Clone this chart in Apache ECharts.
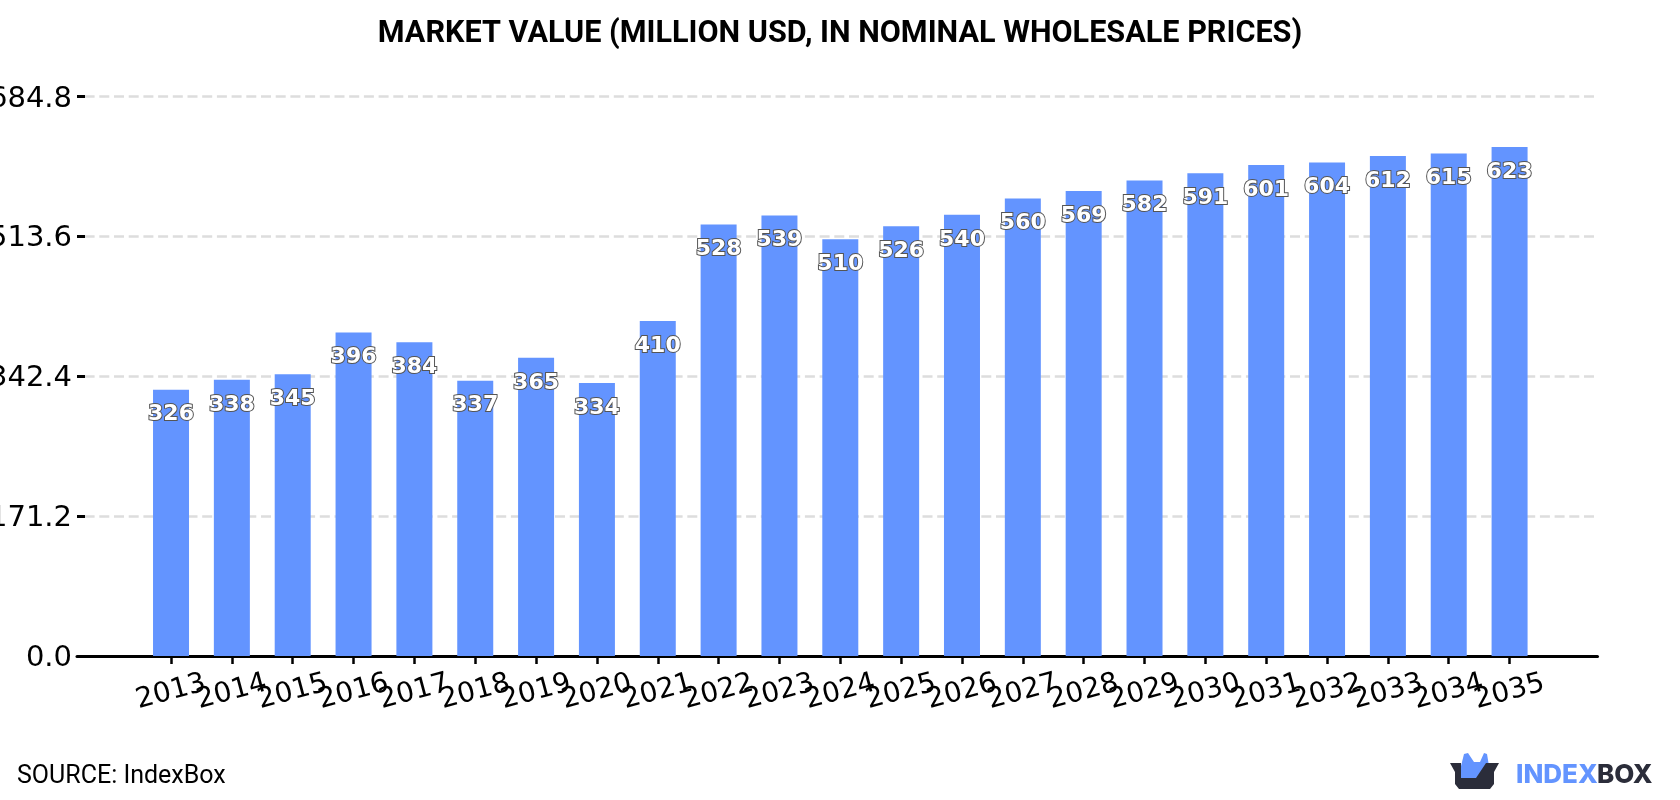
<!DOCTYPE html>
<html>
<head>
<meta charset="utf-8">
<style>html,body{margin:0;padding:0;background:#fff}#chart{width:1680px;height:800px}</style>
<script src="https://cdn.jsdelivr.net/npm/echarts@6/dist/echarts.min.js"></script>
</head>
<body>
<div id="chart"></div>
<script>
const years = ['2013','2014','2015','2016','2017','2018','2019','2020','2021','2022','2023','2024','2025','2026','2027','2028','2029','2030','2031','2032','2033','2034','2035'];
const marketValue = [326,338,345,396,384,337,365,334,410,528,539,510,526,540,560,569,582,591,601,604,612,615,623];
const yTickStep = 171.2;
const yTickMax = 684.8;
const chartTitle = 'MARKET VALUE (MILLION USD, IN NOMINAL WHOLESALE PRICES)';
const sourceText = 'SOURCE: IndexBox';

const chart = echarts.init(document.getElementById('chart'), null, {renderer: 'canvas'});
const plotTop = 96.5, plotBottom = 800 - 656;

chart.setOption({
  animation: false,
  backgroundColor: '#ffffff',
  title: {
    text: chartTitle, left: 835, top: 14, textAlign: 'center',
    textStyle: {fontFamily: 'Roboto', fontSize: 30.6, fontWeight: 700, color: '#000'}
  },
  grid: [
    // outer frame: rules, y axis and baseline
    {left: 77, right: 82.5, top: plotTop, bottom: plotBottom, outerBoundsMode: 'none'},
    // inner band holding the bars
    {left: 140.6, right: 140, top: plotTop, bottom: plotBottom, outerBoundsMode: 'none'}
  ],
  xAxis: [
    {gridIndex: 0, type: 'value', min: 0, max: 1, show: true, axisLabel: {show: false}, axisTick: {show: false},
     splitLine: {show: false}, axisLine: {show: true, onZero: false, lineStyle: {color: '#000', width: 3}}},
    {gridIndex: 1, type: 'category', data: years, axisLine: {show: false},
     axisTick: {show: true, alignWithLabel: true, length: 8, lineStyle: {color: '#000', width: 2.5}},
     axisLabel: {interval: 0, rotate: 15, margin: 36, align: 'center', verticalAlign: 'middle', color: '#000', fontFamily: 'DejaVu Sans', fontSize: 28, hideOverlap: false}}
  ],
  yAxis: [
    {gridIndex: 0, type: 'value', min: 0, max: yTickMax, interval: yTickStep,
     axisLine: {show: false},
     axisTick: {show: true, inside: true, length: 8, lineStyle: {color: '#000', width: 3}},
     axisLabel: {margin: 5, verticalAlign: 'top', lineHeight: 5, color: '#000', fontFamily: 'DejaVu Sans', fontSize: 29, formatter: v => v.toFixed(1), showMaxLabel: true},
     splitLine: {show: true, lineStyle: {color: '#dddddd', width: 2.5, type: [10, 4.7], dashOffset: 7.1}}},
    {gridIndex: 1, type: 'value', min: 0, max: yTickMax, interval: yTickStep, show: false, splitLine: {show: false}}
  ],
  series: [{
    type: 'bar', xAxisIndex: 1, yAxisIndex: 1, data: marketValue, barWidth: 36, z: 3,
    itemStyle: {color: '#6394ff'},
    label: {
      show: true, position: 'insideTop', distance: 14, color: '#fff',
      fontFamily: 'DejaVu Sans', fontWeight: 700, fontSize: 22,
      textBorderColor: '#555', textBorderWidth: 2
    }
  }],
  graphic: [
    {type: 'text', left: 17, top: 764, style: {text: sourceText, fontFamily: 'Roboto', fontSize: 25, fill: '#000'}},
    // brand mark
    {type: 'polygon', shape: {points: [[1461,766],[1464,754],[1468,753],[1474,762],[1480,762],[1484,753],[1487,754],[1489,766],[1478,778],[1461,778]]}, style: {fill: '#6394ff'}},
    {type: 'polygon', shape: {points: [[1450,763],[1461,763],[1461,778],[1476,778],[1486,763],[1499,763],[1494,772],[1494,784],[1490,789],[1459,789],[1455,784],[1455,772]]}, style: {fill: '#2b2d3a'}},
    {type: 'text', left: 1516, top: 762, style: {text: 'INDEX', fontFamily: 'Inter', fontWeight: 800, fontSize: 26, fill: '#6394ff'}},
    {type: 'text', left: 1597, top: 762, style: {text: 'BOX', fontFamily: 'Inter', fontWeight: 800, fontSize: 26, fill: '#2b2d3a'}}
  ]
});
</script>
</body>
</html>
